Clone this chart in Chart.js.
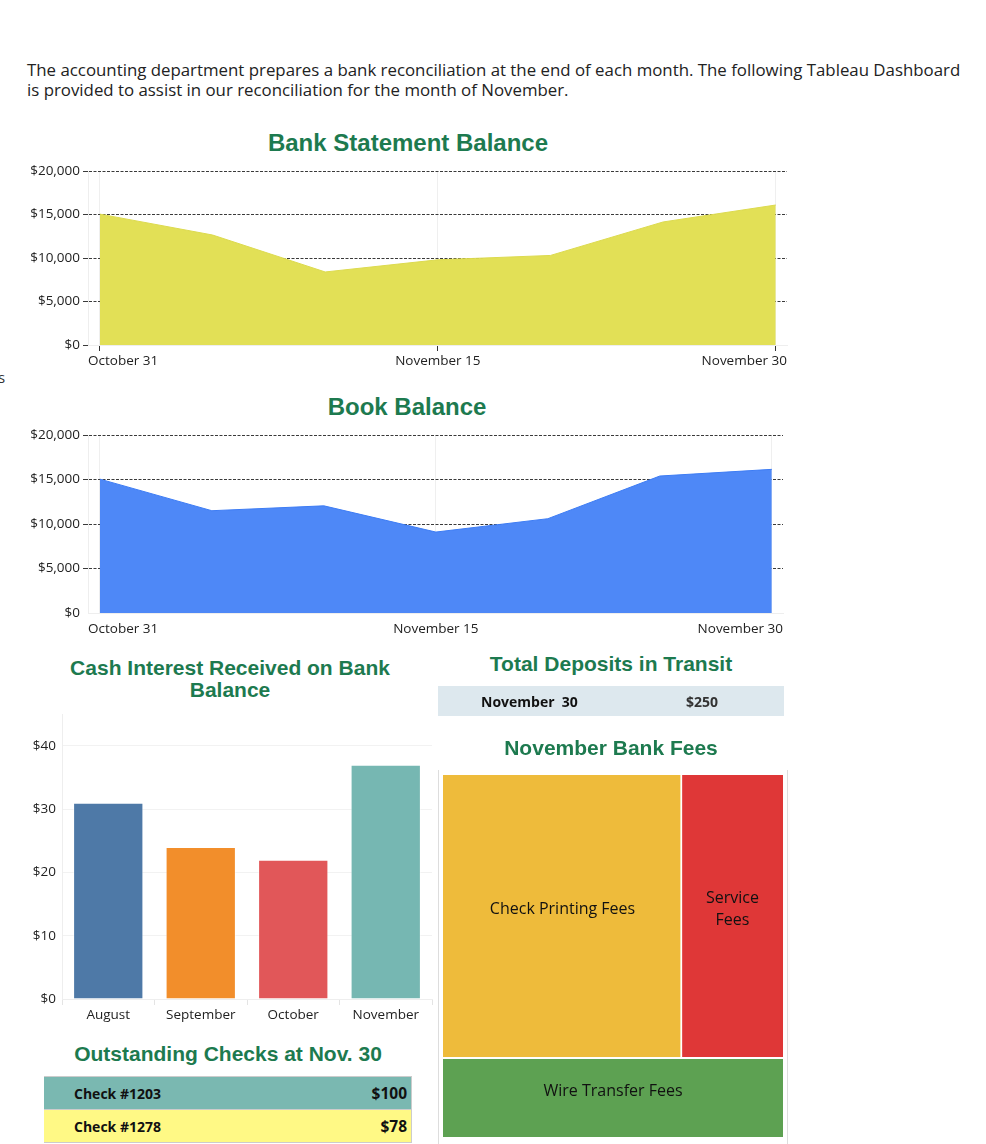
<!DOCTYPE html>
<html>
<head>
<meta charset="utf-8">
<script src="https://cdn.jsdelivr.net/npm/chart.js@4.4.1/dist/chart.umd.min.js"></script>
<style>
    body { margin: 0; background: #fff; width: 986px; height: 1144px; position: relative; overflow: hidden; font-family: 'Open Sans', sans-serif; }
    .abs { position: absolute; }
    .intro { left: 27px; top: 60px; font-size: 16px; line-height: 20px; color: #222; white-space: nowrap; font-family: 'Open Sans', sans-serif; }
    .title { font-family: 'Liberation Sans', Arial, sans-serif; font-weight: bold; color: #1d7a4f; text-align: center; }
    .big { font-size: 24px; line-height: 28px; }
    .mid { font-size: 21px; line-height: 22px; }
    .row { display: flex; align-items: center; font-weight: bold; font-size: 14px; }
    .treeframe { left: 438px; top: 770px; width: 348px; height: 380px; border-left: 1px solid #ddd; border-right: 1px solid #ddd; }
</style>
</head>
<body>

<div class="abs intro" id="intro"><span id="introLine">The accounting department prepares a bank reconciliation at the end of each month. The following Tableau Dashboard</span><br>is provided to assist in our reconciliation for the month of November.</div>
<div class="abs" style="left:-2px; top:367px; font-size:15px; color:#333;">s</div>

<div class="abs title big" style="left:0; top:129px; width:816px;">Bank Statement Balance</div>
<div class="abs" style="left:0; top:160px; width:800px; height:220px;"><canvas id="bankChart"></canvas></div>

<div class="abs title big" style="left:0; top:393px; width:814px;">Book Balance</div>
<div class="abs" style="left:0; top:424px; width:800px; height:222px;"><canvas id="bookChart"></canvas></div>

<div class="abs title mid" style="left:28px; top:657px; width:404px;">Cash Interest Received on Bank<br>Balance</div>
<div class="abs" style="left:0; top:700px; width:440px; height:330px;"><canvas id="interestChart"></canvas></div>

<div class="abs title mid" style="left:430px; top:653px; width:362px;">Total Deposits in Transit</div>
<div class="abs" id="depositTable" style="left:438px; top:686px; width:346px;"></div>

<div class="abs title mid" style="left:430px; top:737px; width:362px;">November Bank Fees</div>
<div class="abs treeframe"></div>
<div class="abs" id="treeTop" style="left:443px; top:775px; width:340px;"><canvas id="feesTop"></canvas></div>
<div class="abs" id="treeBottom" style="left:443px; width:340px;"><canvas id="feesBottom"></canvas></div>

<div class="abs title mid" style="left:28px; top:1043px; width:400px;">Outstanding Checks at Nov. 30</div>
<div class="abs" id="checkTable" style="left:44px; top:1076px; width:367px; border-top:1px solid #ccc; border-right:1px solid #ccc;"></div>

<script>
// Balance data, every five days from Oct 31 to Nov 30
const balanceDates = ['October 31', 'November 5', 'November 10', 'November 15', 'November 20', 'November 25', 'November 30'];
const labeledDates = [0, 3, 6];
const bankBalance = [15050, 12650, 8400, 9800, 10300, 14150, 16100];
const bookBalance = [15050, 11500, 12050, 9100, 10600, 15400, 16150];
const balanceTicks = [0, 5000, 10000, 15000, 20000];

// Interest received per month
const interestMonths = ['August', 'September', 'October', 'November'];
const interestAmounts = [31, 24, 22, 37];
const interestColors = ['#4e79a7', '#f28e2b', '#e15759', '#76b7b2'];

// November fees (treemap)
const feeNames = ['Check Printing Fees', 'Service Fees', 'Wire Transfer Fees'];
const feeAmounts = [45, 19, 18];
const feeColors = ['#eebb3b', '#df3737', '#5da152'];

// Deposits in transit and outstanding checks
const depositDates = ['November\u00a0\u00a030'];
const depositAmounts = [250];
const checkNumbers = ['Check #1203', 'Check #1278'];
const checkAmounts = [100, 78];
const checkColors = ['#7ab8b1', '#fff985'];

Chart.defaults.font.family = "'Open Sans', sans-serif";
Chart.defaults.font.size = 13.5;
Chart.defaults.color = '#222';
Chart.defaults.animation = false;
Chart.defaults.plugins.legend.display = false;
Chart.defaults.plugins.tooltip.enabled = false;
Chart.defaults.maintainAspectRatio = false;

const money = v => '$' + v.toLocaleString('en-US');

// stretch the intro text so its first line spans the same width as the source
function fitIntro() {
    const intro = document.getElementById('intro');
    const line = document.getElementById('introLine');
    const w = line.getBoundingClientRect().width;
    intro.style.fontSize = (16 * 934 / w).toFixed(2) + 'px';
}

/**
 * Area chart for a balance series.
 * 'x' carries the tick marks at the dates, 'xLabels' carries the date text,
 * pushed out to the plot edges the way Tableau does it.
 */
function areaChart(id, values, fillColor, lineColor, withTickMarks, right) {
    const xMin = -0.106, xMax = 6.1;
    new Chart(document.getElementById(id), {
        type: 'line',
        data: {
            datasets: [{
                data: values.map((v, i) => ({ x: i, y: v })),
                backgroundColor: fillColor,
                borderColor: lineColor,
                borderWidth: 1,
                fill: 'origin',
                pointRadius: 0,
                tension: 0
            }]
        },
        options: {
            layout: { padding: { left: 20, right: right, top: 8, bottom: 5 } },
            scales: {
                x: {
                    type: 'linear',
                    min: xMin,
                    max: xMax,
                    afterBuildTicks: s => { s.ticks = labeledDates.map(v => ({ value: v })); },
                    afterFit: s => { s.height = withTickMarks ? 6 : 0; },
                    ticks: { display: false },
                    grid: {
                        color: '#efefef',
                        tickColor: '#333',
                        drawTicks: withTickMarks,
                        tickLength: 6
                    },
                    border: { color: '#eee' }
                },
                xLabels: {
                    type: 'linear',
                    position: 'bottom',
                    min: xMin,
                    max: xMax,
                    afterBuildTicks: s => { s.ticks = [xMin, 3, xMax].map(v => ({ value: v })); },
                    afterFit: s => { s.height = withTickMarks ? 24 : 28; },
                    ticks: {
                        align: 'inner',
                        maxRotation: 0,
                        padding: withTickMarks ? 2 : 8,
                        callback: v => v === xMin ? balanceDates[0] : v === xMax ? balanceDates[6] : balanceDates[v]
                    },
                    grid: { display: false, drawTicks: false },
                    border: { display: false }
                },
                y: {
                    min: 0,
                    max: 20000,
                    afterBuildTicks: s => { s.ticks = balanceTicks.map(v => ({ value: v })); },
                    afterFit: s => { s.width = 68; },
                    ticks: { padding: 3, callback: money },
                    grid: {
                        color: c => c.tick && c.tick.value === 0 ? 'rgba(0,0,0,0)' : '#3a3a3a',
                        tickColor: c => c.tick && c.tick.value === 0 && !withTickMarks ? 'rgba(0,0,0,0)' : '#3a3a3a',
                        tickLength: 5,
                        lineWidth: 1
                    },
                    border: { color: '#eee', dash: [3, 1.5] }
                }
            }
        }
    });
}

/**
 * Bar chart of monthly interest
 */
function renderInterestChart() {
    new Chart(document.getElementById('interestChart'), {
        type: 'bar',
        data: {
            labels: interestMonths,
            datasets: [{
                data: interestAmounts,
                backgroundColor: interestColors,
                borderColor: 'rgba(255,255,255,0.45)',
                borderWidth: 1,
                barPercentage: 0.76,
                categoryPercentage: 1
            }]
        },
        options: {
            layout: { padding: { left: 22, right: 8, top: 12, bottom: 5 } },
            scales: {
                x: {
                    afterFit: s => { s.height = 26; },
                    ticks: { padding: 2 },
                    grid: { offset: true, drawOnChartArea: false, tickLength: 6, color: '#e4e4e4' },
                    border: { color: '#eee' }
                },
                y: {
                    min: 0,
                    max: 45,
                    afterBuildTicks: s => { s.ticks = [0, 10, 20, 30, 40].map(v => ({ value: v })); },
                    afterFit: s => { s.width = 40; },
                    ticks: { padding: 6, callback: v => '$' + v },
                    grid: { color: '#f2f2f2', drawTicks: false },
                    border: { color: '#eee' }
                }
            }
        }
    });
}

// Draws each cell's name in the middle of its rectangle
const cellLabels = {
    id: 'cellLabels',
    afterDatasetsDraw(chart) {
        const ctx = chart.ctx;
        ctx.save();
        ctx.font = "16px 'Open Sans', sans-serif";
        ctx.fillStyle = '#111';
        ctx.textAlign = 'center';
        ctx.textBaseline = 'middle';
        chart.data.datasets.forEach((ds, i) => {
            const bar = chart.getDatasetMeta(i).data[0];
            const cx = (bar.x + bar.base) / 2;
            const w = Math.abs(bar.x - bar.base);
            let lines = [ds.label];
            if (ctx.measureText(ds.label).width > w - 20) lines = ds.label.split(' ');
            const lh = 22;
            const y0 = bar.y - (lines.length - 1) * lh / 2 - 7;
            lines.forEach((t, k) => ctx.fillText(t, cx, y0 + k * lh));
        });
        ctx.restore();
    }
};

/**
 * Treemap: top row holds two fees side by side, bottom row holds the third
 */
function renderFees() {
    const total = feeAmounts.reduce((a, b) => a + b, 0);
    const fullHeight = 362;
    const topHeight = Math.round(fullHeight * (feeAmounts[0] + feeAmounts[1]) / total);
    document.getElementById('treeTop').style.height = (topHeight - 1) + 'px';
    const bottom = document.getElementById('treeBottom');
    bottom.style.top = (775 + topHeight + 1) + 'px';
    bottom.style.height = (fullHeight - topHeight - 1) + 'px';

    const flat = (max) => ({
        indexAxis: 'y',
        layout: { padding: 0 },
        scales: {
            x: { stacked: true, min: 0, max: max, display: false },
            y: { stacked: true, display: false }
        }
    });

    new Chart(document.getElementById('feesTop'), {
        type: 'bar',
        data: {
            labels: ['top'],
            datasets: [0, 1].map(i => ({
                label: feeNames[i],
                data: [feeAmounts[i]],
                backgroundColor: feeColors[i],
                borderColor: '#fff',
                borderWidth: i === 0 ? { right: 2 } : 0,
                borderSkipped: false,
                barPercentage: 1,
                categoryPercentage: 1
            }))
        },
        options: flat(feeAmounts[0] + feeAmounts[1]),
        plugins: [cellLabels]
    });

    new Chart(document.getElementById('feesBottom'), {
        type: 'bar',
        data: {
            labels: ['bottom'],
            datasets: [{
                label: feeNames[2],
                data: [feeAmounts[2]],
                backgroundColor: feeColors[2],
                barPercentage: 1,
                categoryPercentage: 1
            }]
        },
        options: flat(feeAmounts[2]),
        plugins: [cellLabels]
    });
}

/**
 * Small text tables
 */
function renderTables() {
    document.getElementById('depositTable').innerHTML = depositDates.map((d, i) => `
        <div class="row" style="height:30px; background:#dde8ee;">
            <span style="margin-left:43px; width:205px; color:#111;">${d}</span>
            <span style="color:#333;">${money(depositAmounts[i])}</span>
        </div>
    `).join('');

    document.getElementById('checkTable').innerHTML = checkNumbers.map((c, i) => `
        <div class="row" style="height:32px; background:${checkColors[i]}; border-bottom:1px solid #ccc; color:#111;">
            <span style="margin-left:30px; flex:1;">${c}</span>
            <span style="margin-right:4px; font-size:15.5px;">${money(checkAmounts[i])}</span>
        </div>
    `).join('');
}

fitIntro();
areaChart('bankChart', bankBalance, '#e2e056', '#dcda4e', true, 13);
areaChart('bookChart', bookBalance, '#4e88f7', '#3d7cf4', false, 17);
renderInterestChart();
renderFees();
renderTables();
</script>
</body>
</html>
